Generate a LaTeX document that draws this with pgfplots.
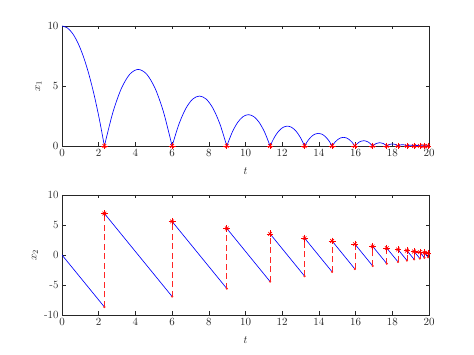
\documentclass[border=0pt]{standalone}
\usepackage{pgfplots}
\pgfplotsset{compat=1.18}
\usepackage{pgfplotstable}

\pgfplotstableread{
t y
2.31 0
6.00 0
8.98 0
11.34 0
13.22 0
14.72 0
15.96 0
16.93 0
17.70 0
18.31 0
18.80 0
19.19 0
19.50 0
19.75 0
19.95 0
}\impacts

\pgfplotstableread{
t v
2.31 6.92
6.00 5.59
8.98 4.43
11.34 3.53
13.22 2.81
14.72 2.33
15.96 1.82
16.93 1.44
17.70 1.14
18.31 0.92
18.80 0.73
19.19 0.58
19.50 0.47
19.75 0.38
19.95 0.30
}\postv

\definecolor{axgray}{rgb}{0.15,0.15,0.15}
\pgfplotsset{
  myaxis/.style={
    scale only axis, width=367pt, height=120pt,
    anchor=south west,
    xmin=0, xmax=20,
    xtick={0,2,...,20},
    tick align=inside,
    major tick length=3.5pt,
    axis line style={axgray, line width=0.5pt},
    tick style={axgray, line width=0.5pt},
    ticklabel style={axgray, font=\fontsize{11}{13}\selectfont},
    label style={axgray, font=\fontsize{11}{13}\selectfont},
    xlabel={$t$},
    xlabel style={yshift=-4pt},
    ylabel style={yshift=-1pt},
  },
  arc/.style={blue, line width=0.65pt, smooth, no marks},
}

\begin{document}
\begin{tikzpicture}
\useasboundingbox (0,0) rectangle (474pt,355pt);
% ---------- top axis ----------
\begin{axis}[myaxis, at={(62pt,209pt)},
  ymin=0, ymax=10, ytick={0,5,10},
  ylabel={$x_1$}]
\addplot[arc] coordinates {(0,10) (0.289,9.844) (0.578,9.375) (0.866,8.594) (1.155,7.5) (1.444,6.094) (1.733,4.375) (2.021,2.344) (2.31,0)};
\addplot[arc] coordinates {(2.31,0) (2.771,2.793) (3.233,4.787) (3.694,5.984) (4.155,6.383) (4.616,5.984) (5.078,4.787) (5.539,2.793) (6.00,0)};
\addplot[arc] coordinates {(6.00,0) (6.373,1.821) (6.745,3.122) (7.118,3.903) (7.49,4.163) (7.863,3.903) (8.235,3.122) (8.608,1.821) (8.98,0)};
\addplot[arc] coordinates {(8.98,0) (9.275,1.142) (9.57,1.958) (9.865,2.448) (10.16,2.611) (10.455,2.448) (10.75,1.958) (11.045,1.142) (11.34,0)};
\addplot[arc] coordinates {(11.34,0) (11.575,0.725) (11.81,1.243) (12.045,1.553) (12.28,1.657) (12.515,1.553) (12.75,1.243) (12.985,0.725) (13.22,0)};
\addplot[arc] coordinates {(13.22,0) (13.408,0.462) (13.595,0.791) (13.783,0.989) (13.97,1.055) (14.158,0.989) (14.345,0.791) (14.533,0.462) (14.72,0)};
\addplot[arc] coordinates {(14.72,0) (14.875,0.315) (15.03,0.541) (15.185,0.676) (15.34,0.721) (15.495,0.676) (15.65,0.541) (15.805,0.315) (15.96,0)};
\addplot[arc] coordinates {(15.96,0) (16.203,0.331) (16.445,0.441) (16.688,0.331) (16.93,0)};
\addplot[arc] coordinates {(16.93,0) (17.123,0.209) (17.315,0.278) (17.508,0.209) (17.70,0)};
\addplot[arc] coordinates {(17.70,0) (17.853,0.131) (18.005,0.174) (18.158,0.131) (18.31,0)};
\addplot[arc] coordinates {(18.31,0) (18.433,0.085) (18.555,0.113) (18.678,0.085) (18.80,0)};
\addplot[arc] coordinates {(18.80,0) (18.898,0.053) (18.995,0.071) (19.093,0.053) (19.19,0)};
\addplot[arc] coordinates {(19.19,0) (19.268,0.034) (19.345,0.045) (19.423,0.034) (19.50,0)};
\addplot[arc] coordinates {(19.50,0) (19.5625,0.022) (19.625,0.029) (19.6875,0.022) (19.75,0)};
\addplot[arc] coordinates {(19.75,0) (19.80,0.014) (19.85,0.019) (19.90,0.014) (19.95,0)};
\addplot[arc] coordinates {(19.95,0) (19.975,0.0063) (20,0.0103)};
\addplot[red, only marks, mark=+, mark size=3.4pt, mark options={line width=0.6pt}] table[x=t, y=y] {\impacts};
\addplot[red, only marks, mark=x, mark size=2.6pt, mark options={line width=0.6pt}] table[x=t, y=y] {\impacts};
\end{axis}
% ---------- bottom axis ----------
\begin{axis}[myaxis, at={(62pt,40pt)},
  ymin=-10, ymax=10, ytick={-10,-5,0,5,10},
  yticklabels={-10,-5,0,5,10},
  ylabel={$x_2$}, unbounded coords=jump]
\addplot[blue, line width=0.65pt, no marks] coordinates {
(0,0) (2.31,-8.66) (2.31,nan)
(2.31,6.92) (6.00,-6.92) (6.00,nan)
(6.00,5.59) (8.98,-5.59) (8.98,nan)
(8.98,4.43) (11.34,-4.43) (11.34,nan)
(11.34,3.53) (13.22,-3.53) (13.22,nan)
(13.22,2.81) (14.72,-2.81) (14.72,nan)
(14.72,2.33) (15.96,-2.33) (15.96,nan)
(15.96,1.82) (16.93,-1.82) (16.93,nan)
(16.93,1.44) (17.70,-1.44) (17.70,nan)
(17.70,1.14) (18.31,-1.14) (18.31,nan)
(18.31,0.92) (18.80,-0.92) (18.80,nan)
(18.80,0.73) (19.19,-0.73) (19.19,nan)
(19.19,0.58) (19.50,-0.58) (19.50,nan)
(19.50,0.47) (19.75,-0.47) (19.75,nan)
(19.75,0.38) (19.95,-0.38) (19.95,nan)
(19.95,0.30) (20,0.11)
};
\addplot[red!85, line width=0.6pt, dash pattern=on 6pt off 3.5pt, mark=*, mark size=0.8pt, mark options={solid}] coordinates {
(2.31,-8.66) (2.31,6.92) (2.31,nan)
(6.00,-6.92) (6.00,5.59) (6.00,nan)
(8.98,-5.59) (8.98,4.43) (8.98,nan)
(11.34,-4.43) (11.34,3.53) (11.34,nan)
(13.22,-3.53) (13.22,2.81) (13.22,nan)
(14.72,-2.81) (14.72,2.33) (14.72,nan)
(15.96,-2.33) (15.96,1.82) (15.96,nan)
(16.93,-1.82) (16.93,1.44) (16.93,nan)
(17.70,-1.44) (17.70,1.14) (17.70,nan)
(18.31,-1.14) (18.31,0.92) (18.31,nan)
(18.80,-0.92) (18.80,0.73) (18.80,nan)
(19.19,-0.73) (19.19,0.58) (19.19,nan)
(19.50,-0.58) (19.50,0.47) (19.50,nan)
(19.75,-0.47) (19.75,0.38) (19.75,nan)
(19.95,-0.38) (19.95,0.30)
};
\addplot[red, only marks, mark=+, mark size=3.4pt, mark options={line width=0.6pt}] table[x=t, y=v] {\postv};
\addplot[red, only marks, mark=x, mark size=2.6pt, mark options={line width=0.6pt}] table[x=t, y=v] {\postv};
\end{axis}
\end{tikzpicture}
\end{document}
